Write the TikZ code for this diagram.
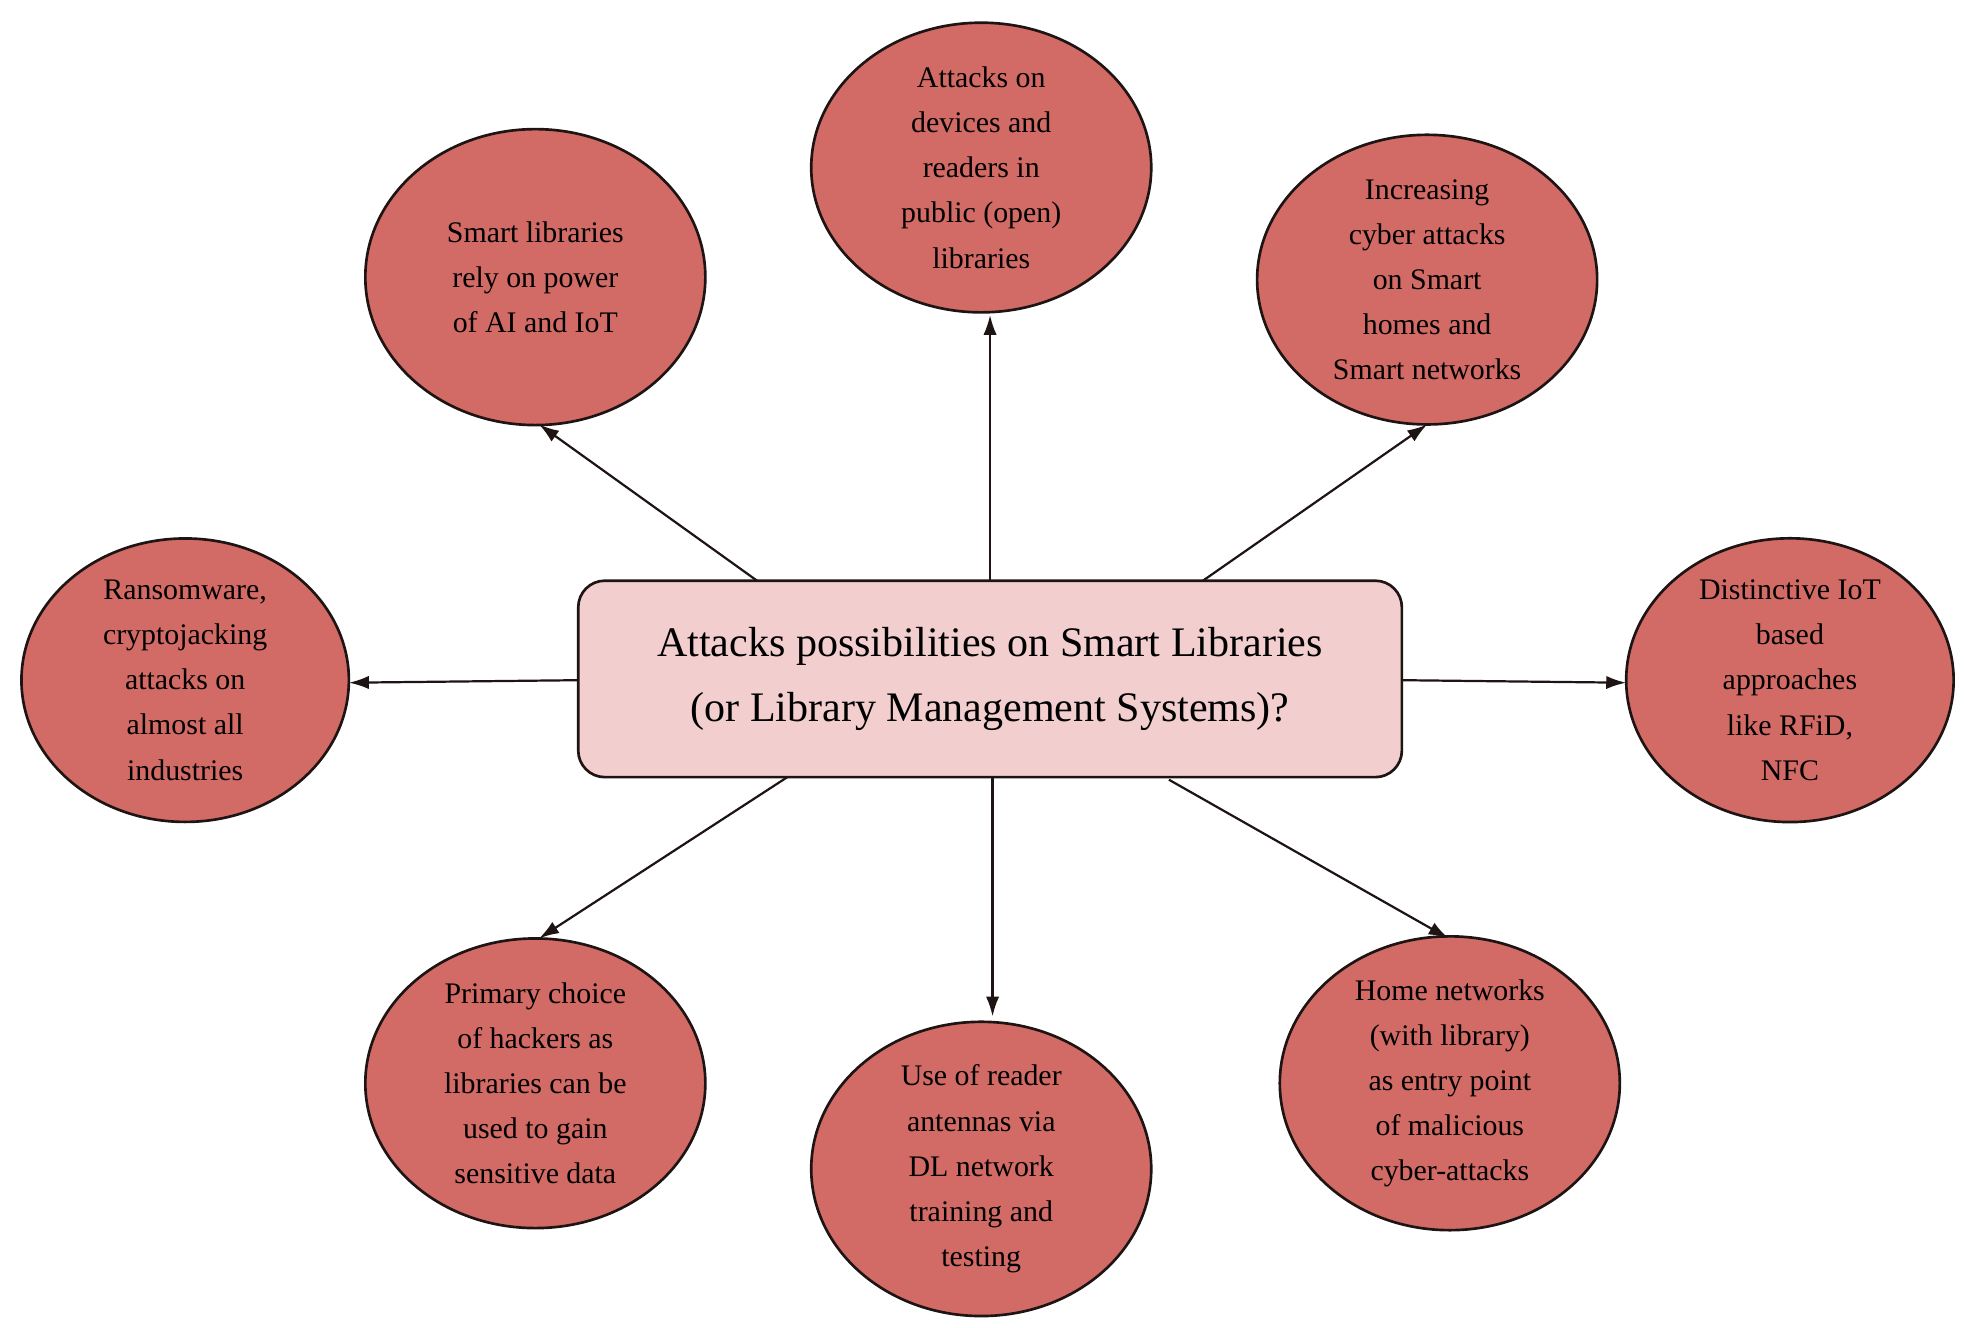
\documentclass[tikz,border=0pt]{standalone}
\usepackage{fontspec}
\setmainfont{Liberation Serif}
\usetikzlibrary{shapes.geometric,arrows.meta}
\definecolor{ellfill}{RGB}{210,106,101}
\definecolor{boxfill}{RGB}{242,206,206}
\definecolor{edge}{RGB}{30,20,20}
\begin{document}
\begin{tikzpicture}[x=0.02cm,y=-0.02cm,
  ell/.style={ellipse,draw=edge,line width=1.2pt,fill=ellfill,inner sep=0pt,align=center,font=\fontsize{13.5}{20.4}\selectfont},
  arr/.style={-{Latex[length=9pt,width=6pt]},line width=1pt,draw=edge}]
\useasboundingbox (0,0) rectangle (1560,1054);
\node[ell,minimum width=270\pgflinewidth/1.2,minimum width=5.4cm,minimum height=4.6cm] (tc) at (779,133) {Attacks on\\devices and\\readers in\\public (open)\\libraries};
\node[ell,minimum width=5.4cm,minimum height=4.7cm] (tl) at (425,220) {Smart libraries\\rely on power\\of AI and IoT};
\node[ell,minimum width=5.4cm,minimum height=4.6cm] (tr) at (1133,222) {Increasing\\cyber attacks\\on Smart\\homes and\\Smart networks};
\node[ell,minimum width=5.2cm,minimum height=4.2cm] (l) at (147,540) {Ransomware,\\cryptojacking\\attacks on\\almost all\\industries};
\node[ell,minimum width=5.2cm,minimum height=4.2cm] (r) at (1421,540) {Distinctive IoT\\based\\approaches\\like RFiD,\\NFC};
\node[ell,minimum width=5.4cm,minimum height=4.6cm] (bl) at (425,860) {Primary choice\\of hackers as\\libraries can be\\used to gain\\sensitive data};
\node[ell,minimum width=5.4cm,minimum height=4.6cm] (bc) at (779,928) {Use of reader\\antennas via\\DL network\\training and\\testing};
\node[ell,minimum width=5.4cm,minimum height=4.6cm] (br) at (1151,860) {Home networks\\(with library)\\as entry point\\of malicious\\cyber-attacks};
\node[draw=edge,line width=1.2pt,fill=boxfill,rounded corners=12pt,minimum width=13.08cm,minimum height=3.12cm,align=center,font=\fontsize{19}{29}\selectfont] (c) at (786,539) {Attacks possibilities on Smart Libraries\\(or Library Management Systems)?};
\coordinate (s1) at (601,461);
\coordinate (s2) at (786,461);
\coordinate (s3) at (955,461);
\coordinate (s4) at (459,540);
\coordinate (s5) at (1113,540);
\coordinate (s6) at (625,617);
\coordinate (s7) at (788,617);
\coordinate (s8) at (928,619);
\coordinate (e1) at (428,337);
\coordinate (e2) at (786,250);
\coordinate (e3) at (1133,337);
\coordinate (e4) at (277,542);
\coordinate (e5) at (1291,542);
\coordinate (e6) at (428,745);
\coordinate (e7) at (788,807);
\coordinate (e8) at (1150,745);
\foreach \i in {1,...,8} \draw[arr] (s\i) -- (e\i);
\end{tikzpicture}
\end{document}
